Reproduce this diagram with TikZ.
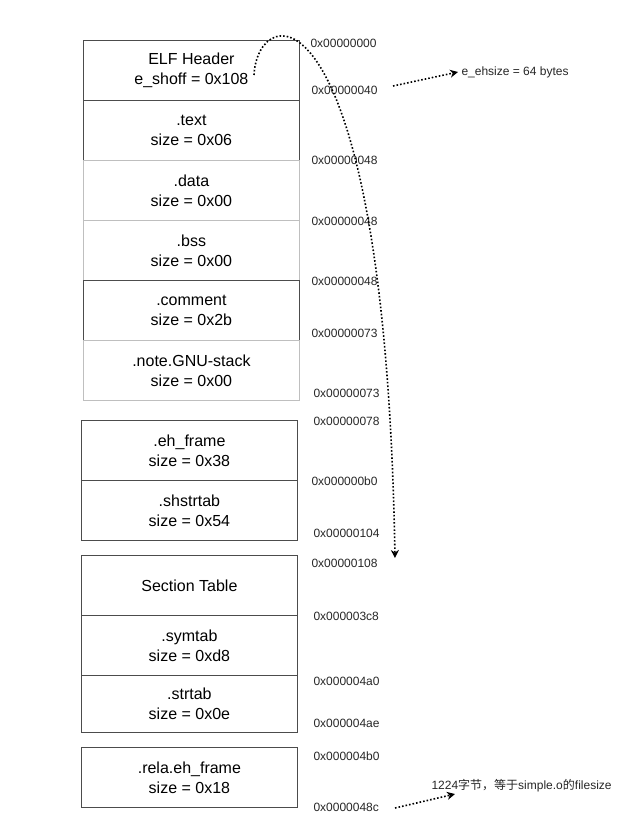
\documentclass[tikz,border=0pt]{standalone}
\usepackage{fontspec}
\usetikzlibrary{arrows.meta}
\setmainfont{Liberation Sans}
\newfontfamily\cjk{Noto Sans CJK SC}
\begin{document}
\begin{tikzpicture}[x=1pt,y=-1pt,
  sec/.style={draw=black!70,line width=0.8pt,minimum width=216pt,minimum height=60pt,inner sep=0pt,align=center,font=\fontsize{16}{20}\selectfont,anchor=north west},
  lite/.style={sec,draw=black!25},
  addr/.style={anchor=west,font=\fontsize{12}{14}\selectfont,text=black!85},
  dots/.style={dotted,line width=1.6pt,-{Stealth[length=8pt,width=8pt]}}]
\useasboundingbox (0,0) rectangle (628,835);
\node[sec] (elf) at (83,40) {ELF Header\\e\_shoff = 0x108};
\node[sec] (text) at (83,100) {.text\\size = 0x06};
\node[lite] (data) at (83,160) {.data\\size = 0x00};
\node[lite] (bss) at (83,220) {.bss\\size = 0x00};
\node[sec] (comment) at (83,280) {.comment\\size = 0x2b};
\node[lite] (note) at (83,340) {.note.GNU-stack\\size = 0x00};
\node[sec] (eh) at (81,420) {.eh\_frame\\size = 0x38};
\node[sec] (shs) at (81,480) {.shstrtab\\size = 0x54};
\node[sec] (st) at (81,555) {Section Table};
\node[sec] (sym) at (81,615) {.symtab\\size = 0xd8};
\node[sec,minimum height=57pt] (str) at (81,675) {.strtab\\size = 0x0e};
\node[sec] (rela) at (81,747) {.rela.eh\_frame\\size = 0x18};
\node[addr] (a1) at (307,43) {0x00000000};
\node[addr] (a2) at (308,90) {0x00000040};
\node[addr] (a3) at (308,160) {0x00000048};
\node[addr] (a4) at (308,221) {0x00000048};
\node[addr] (a5) at (308,281) {0x00000048};
\node[addr] (a6) at (308,333) {0x00000073};
\node[addr] (a7) at (310,393) {0x00000073};
\node[addr] (a8) at (310,421) {0x00000078};
\node[addr] (a9) at (308,481) {0x000000b0};
\node[addr] (a10) at (310,533) {0x00000104};
\node[addr] (a11) at (308,563) {0x00000108};
\node[addr] (a12) at (310,616) {0x000003c8};
\node[addr] (a13) at (310,681) {0x000004a0};
\node[addr] (a14) at (310,723) {0x000004ae};
\node[addr] (a15) at (310,756) {0x000004b0};
\node[addr] (a16) at (310,807) {0x0000048c};
\node[addr] (ehs) at (458,72) {e\_ehsize = 64 bytes};
\node[addr] (fs) at (428,786) {1224{\cjk 字节，等于}simple.o{\cjk 的}filesize};
\coordinate (c0) at (254,75);
\coordinate (c1) at (395,558);
\coordinate (e0) at (393,86);
\coordinate (f0) at (395,808);
\coordinate (f1) at (455,794);
\draw[dots] (c0) .. controls (258,-2) and (385,-20) .. (c1);
\draw[dots] (e0) -- (ehs.west);
\draw[dots] (f0) -- (f1);
\end{tikzpicture}
\end{document}
